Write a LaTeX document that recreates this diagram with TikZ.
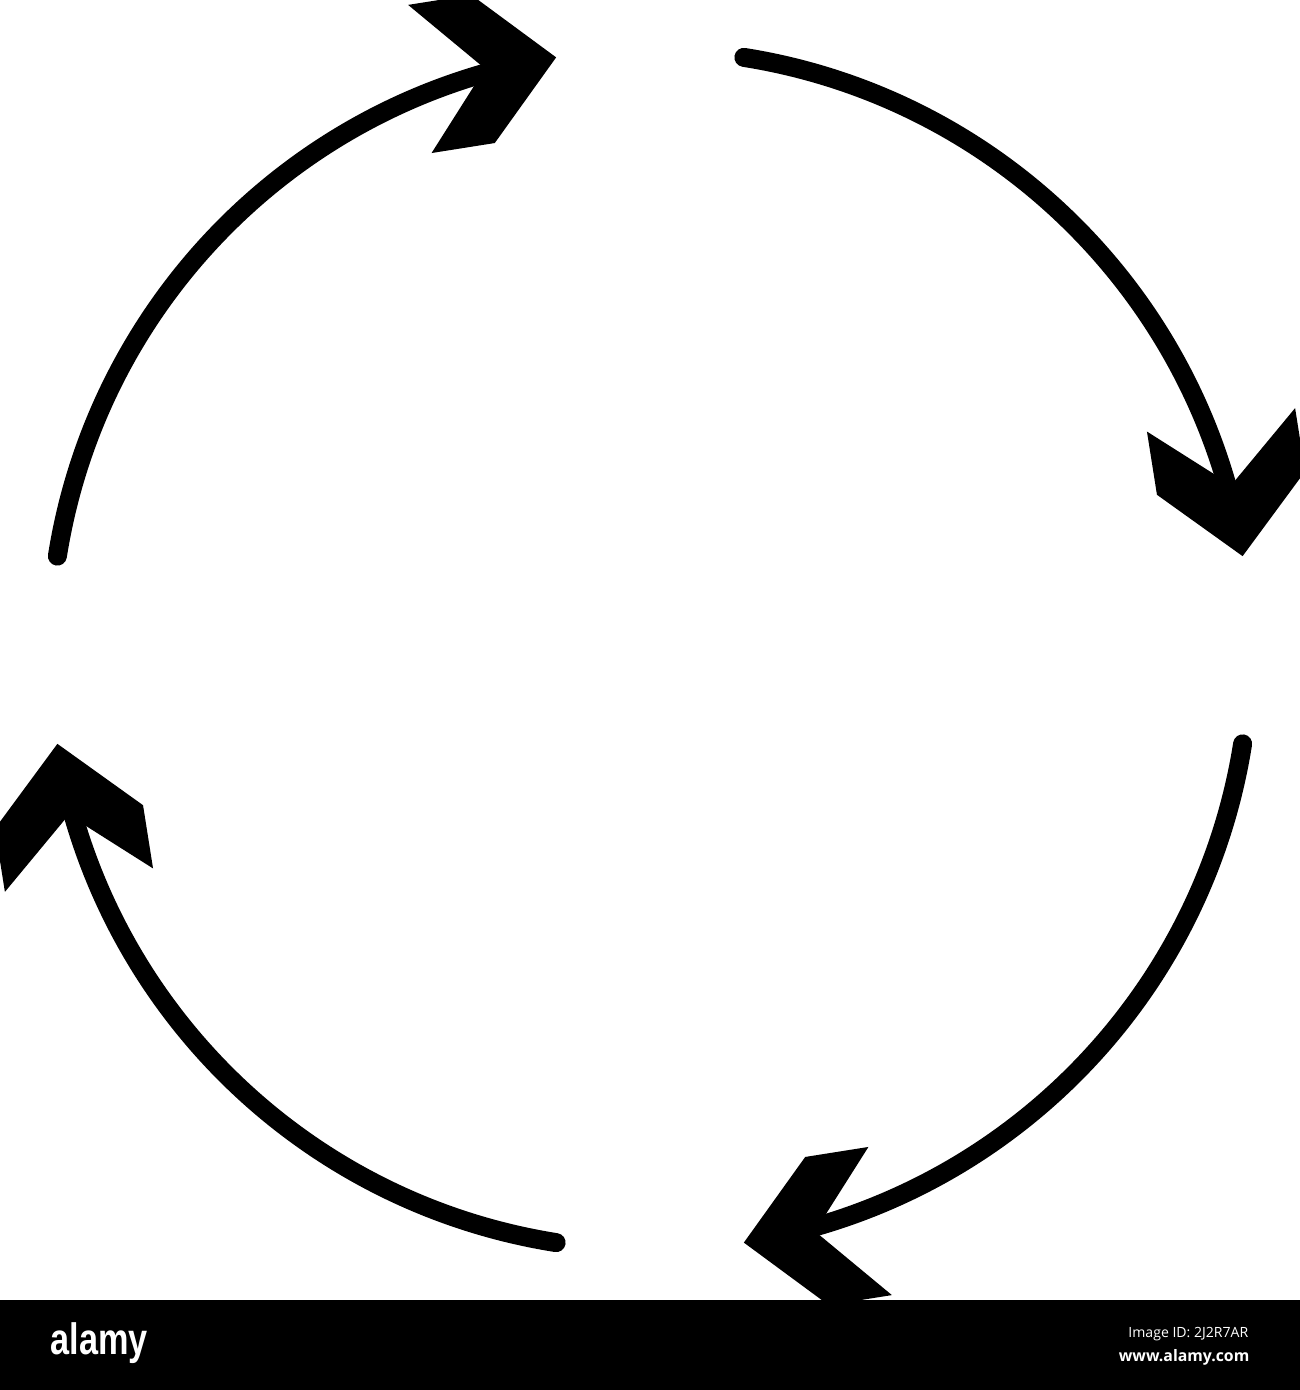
\documentclass[tikz,border=0pt]{standalone}
\usepackage{fontspec}
\newfontfamily\logofont[FakeStretch=0.78]{Liberation Sans}
\newfontfamily\idfont{Open Sans}
\begin{document}
\begin{tikzpicture}[x=0.01cm, y=0.01cm]
\tikzstyle{arc} 	= [line width = 5.4pt, line cap = round] % define cycle arc
\tikzstyle{chev} 	= [fill = black] % define arrowhead
\tikzstyle{bar} 	= [fill = black] % define footer bar
\tikzstyle{logo} 	= [text = white, inner sep = 0pt, anchor = base west, font = \logofont\bfseries\fontsize{12.5}{12.5}\selectfont]
\tikzstyle{imgid} 	= [text = white, inner sep = 0pt, anchor = base east, font = \idfont\fontsize{4}{4}\selectfont]
\tikzstyle{web} 	= [text = white, inner sep = 0pt, anchor = base east, font = \idfont\bfseries\fontsize{4.5}{4.5}\selectfont]

\useasboundingbox (0,0) rectangle (1300,1390);
\coordinate (C) at (650,740);

% four arcs, each with a chevron head
\foreach \k in {0,1,2,3}{
\begin{scope}[shift={(C)}, rotate=-90*\k]
	\draw[arc] (81:600) arc[start angle=81, end angle=13, radius=600];
	\fill[chev, shift={(9:600)}, rotate=-81] (0,0) -- (-74,75) -- (-138,75) -- (-72,0) -- (-138,-75) -- (-74,-75) -- cycle;
\end{scope}
}

% footer
\fill[bar] (0,0) rectangle (1300,90);
\node(logo)[logo] at (50,35){alamy};
\node(id)[imgid] at (1249,53){Image ID: 2J2R7AR};
\node(www)[web] at (1250,28){www.alamy.com};
\end{tikzpicture}
\end{document}
